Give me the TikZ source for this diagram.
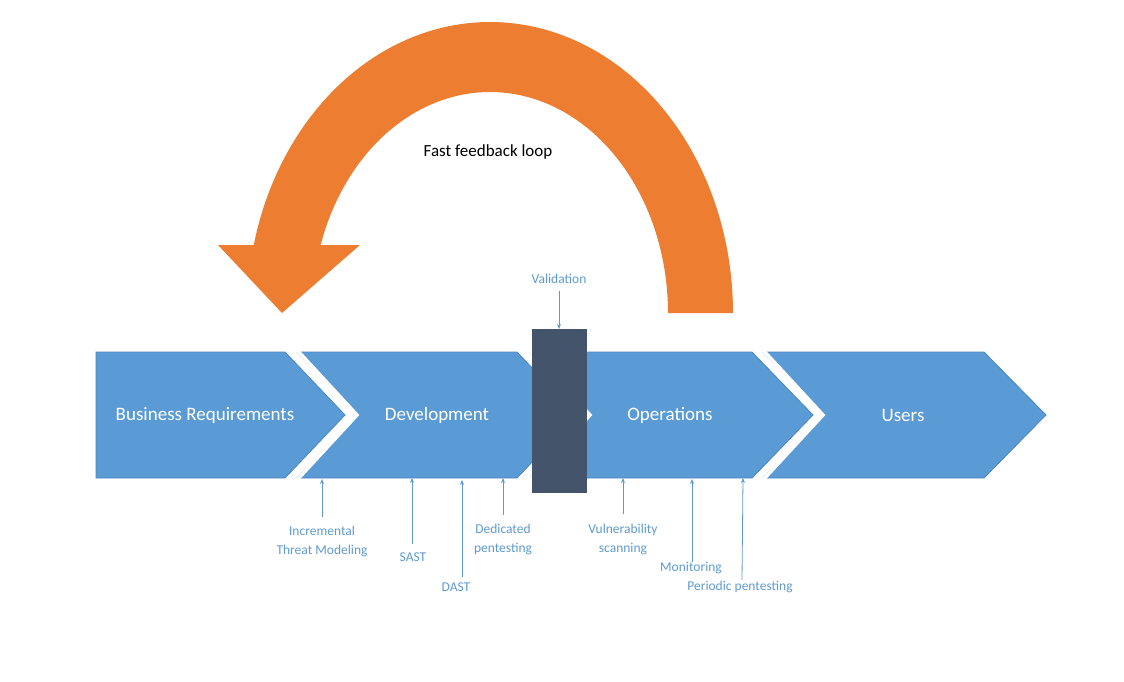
\documentclass[tikz,border=0pt]{standalone}
\usepackage{fontspec}
\setmainfont{Carlito}
\begin{document}
\begin{tikzpicture}[x=1pt,y=-1pt,
  chev/.style={fill=cblue,draw=cedge,line width=0.8pt},
  notch/.style={draw=white,line width=3.5pt},
  big/.style={text=white,font=\fontsize{19}{22}\selectfont},
  small/.style={text=lblue,font=\fontsize{13.5}{19}\selectfont,align=center},
  pt/.style={draw=lblue,line width=0.8pt,-{Stealth[length=5pt,width=4pt]}}]
\usetikzlibrary{arrows.meta}
\definecolor{cblue}{HTML}{5B9BD5}
\definecolor{cedge}{HTML}{4A86C0}
\definecolor{lblue}{HTML}{5E9AD2}
\definecolor{corange}{HTML}{ED7D31}
\definecolor{cdark}{HTML}{44546A}
\useasboundingbox (0,0) rectangle (1124,682);
% orange loop
\fill[corange] (733,313) -- plot[domain=0:166.5,samples=80,smooth] ({490+243*cos(\x)},{313-291*sin(\x)})
  -- (218,245) -- (282,313) -- (360,245) -- (321,245)
  -- plot[domain=162.1:0,samples=80,smooth] ({490+178*cos(\x)},{313-221*sin(\x)})
  -- (668,313) -- cycle;
\node (fb) at (488,152) {\fontsize{17}{20}\selectfont Fast feedback loop};
% chevrons
\path[chev] (96,352) -- (285,352) -- (345,415) -- (285,478) -- (96,478) -- cycle;
\path[chev] (297,352) -- (517,352) -- (577,415) -- (517,478) -- (297,478) -- (357,415) -- cycle;
\draw[notch] (297,350) -- (357,415) -- (297,480);
\path[chev] (530,352) -- (752,352) -- (813,415) -- (752,478) -- (530,478) -- (590,415) -- cycle;
\draw[notch] (530,350) -- (590,415) -- (530,480);
\path[chev] (763,352) -- (984,352) -- (1046,415) -- (984,478) -- (763,478) -- (823,415) -- cycle;
\draw[notch] (763,350) -- (823,415) -- (763,480);
\node[big] (br) at (205,415) {Business Requirements};
\node[big] (dev) at (437,415) {Development};
\node[big] (ops) at (670,415) {Operations};
\node[big] (us) at (903,415) {Users};
% validation box
\fill[cdark] (532,329) rectangle (587,493);
\coordinate (boxtop) at (559,329);
\node[small] (val) at (559,279) {Validation};
\draw[pt] (559,291) -- (boxtop);
% small labels
\node[small] (itm) at (322,541) {Incremental\\Threat Modeling};
\node[small] (sast) at (413,557) {SAST};
\node[small] (dast) at (456,587) {DAST};
\node[small] (ded) at (503,539) {Dedicated\\pentesting};
\node[small] (vul) at (623,539) {Vulnerability\\scanning};
\node[small] (mon) at (691,568) {Monitoring};
\node[small] (per) at (740,587) {Periodic pentesting};
\coordinate (a1) at (322,479); \coordinate (b1) at (322,517);
\coordinate (a2) at (412,478); \coordinate (b2) at (412,544);
\coordinate (a3) at (462,480); \coordinate (b3) at (462,577);
\coordinate (a4) at (503,478); \coordinate (b4) at (503,515);
\coordinate (a5) at (623,478); \coordinate (b5) at (623,514);
\coordinate (a6) at (692,479); \coordinate (b6) at (692,562);
\coordinate (a7) at (743,478); \coordinate (b7) at (742,580);
\foreach \i in {1,...,7} \draw[pt] (b\i) -- (a\i);
\end{tikzpicture}
\end{document}
